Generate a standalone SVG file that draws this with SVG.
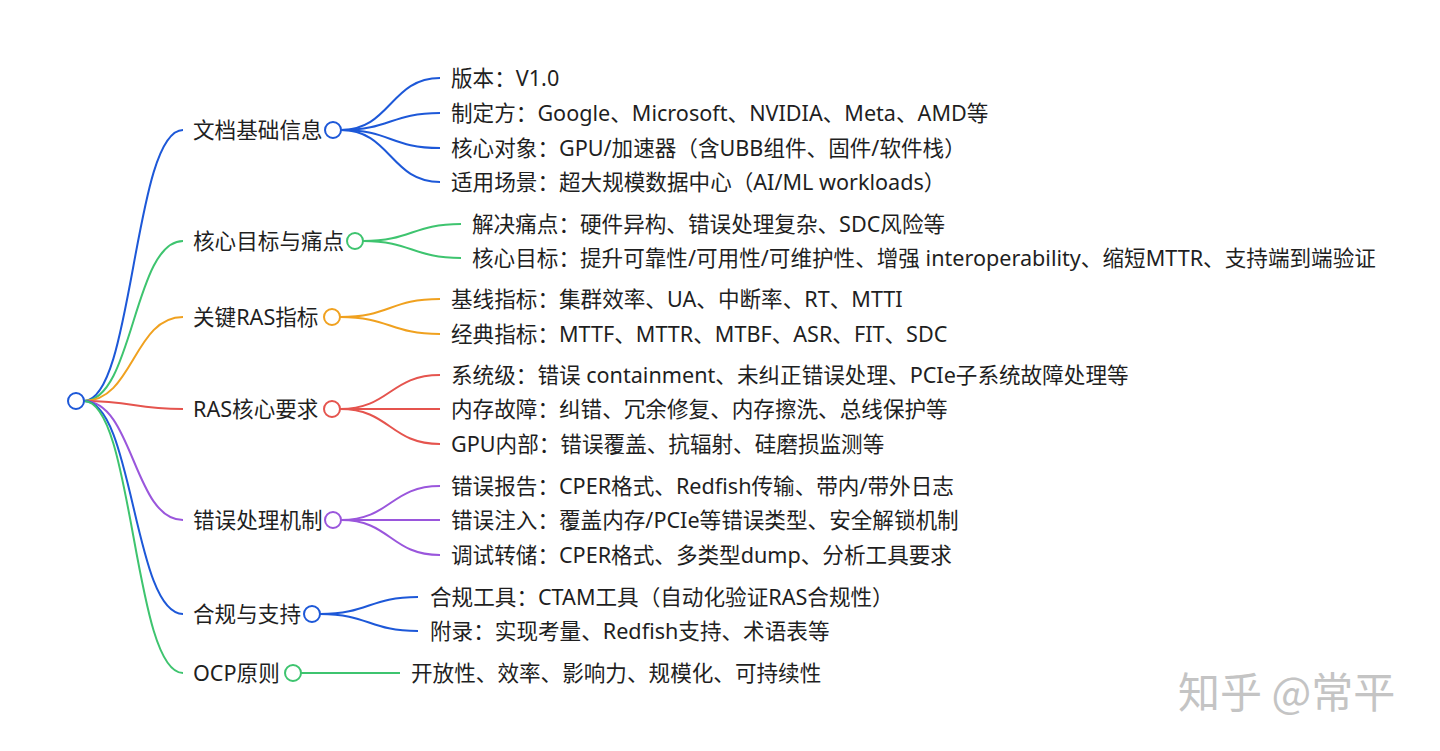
<svg xmlns="http://www.w3.org/2000/svg" width="1440" height="751" viewBox="0 0 1440 751">
<style>
text{font-family:"Noto Sans","Noto Sans CJK SC",sans-serif;font-size:21.6px;fill:#1f1f1f}
.l{fill:none;stroke-width:2}
.c{fill:#fff;stroke-width:2}
.b{stroke:#1d58d8}.g{stroke:#3ec46f}.o{stroke:#f0a11f}.r{stroke:#e5544e}.p{stroke:#9a56dc}
.wm{font-family:"Noto Sans CJK SC",sans-serif;font-size:42px;fill:#c4c4c4}
</style>
<rect width="1440" height="751" fill="#fff"/>
<g id="connectors">
<path class="l b" d="M84 401 C133.5 401 133.5 130 183 130"/>
<path class="l g" d="M84 401 C133.5 401 133.5 241 183 241"/>
<path class="l o" d="M84 401 C133.5 401 133.5 317 183 317"/>
<path class="l r" d="M84 401 C133.5 401 133.5 409 183 409"/>
<path class="l p" d="M84 401 C133.5 401 133.5 520 183 520"/>
<path class="l b" d="M84 401 C133.5 401 133.5 614 183 614"/>
<path class="l g" d="M84 401 C133.5 401 133.5 673 183 673"/>
<path class="l b" d="M341 130 C390.5 130 390.5 78 440 78"/>
<path class="l b" d="M341 130 C390.5 130 390.5 113 440 113"/>
<path class="l b" d="M341 130 C390.5 130 390.5 148 440 148"/>
<path class="l b" d="M341 130 C390.5 130 390.5 182 440 182"/>
<path class="l g" d="M363 241 C412 241 412 224 461 224"/>
<path class="l g" d="M363 241 C412 241 412 258 461 258"/>
<path class="l o" d="M340 317 C390 317 390 299 440 299"/>
<path class="l o" d="M340 317 C390 317 390 334 440 334"/>
<path class="l r" d="M340 409 C390 409 390 375 440 375"/>
<path class="l r" d="M340 409 C390 409 390 409 440 409"/>
<path class="l r" d="M340 409 C390 409 390 444 440 444"/>
<path class="l p" d="M341 520 C390.5 520 390.5 486 440 486"/>
<path class="l p" d="M341 520 C390.5 520 390.5 520 440 520"/>
<path class="l p" d="M341 520 C390.5 520 390.5 555 440 555"/>
<path class="l b" d="M320 614 C369 614 369 597 418 597"/>
<path class="l b" d="M320 614 C369 614 369 631 418 631"/>
<path class="l g" d="M301 673 L400 673"/>
</g>
<g id="root"><circle class="c b" cx="76" cy="401" r="8"/></g>
<g id="n1"><text x="193" y="137.5">文档基础信息</text><circle class="c b" cx="333" cy="130" r="8"/></g>
<g id="n2"><text x="193" y="248.5">核心目标与痛点</text><circle class="c g" cx="355" cy="241" r="8"/></g>
<g id="n3"><text x="193" y="324.5">关键RAS指标</text><circle class="c o" cx="332" cy="317" r="8"/></g>
<g id="n4"><text x="193" y="416.5">RAS核心要求</text><circle class="c r" cx="332" cy="409" r="8"/></g>
<g id="n5"><text x="193" y="527.5">错误处理机制</text><circle class="c p" cx="333" cy="520" r="8"/></g>
<g id="n6"><text x="193" y="621.5">合规与支持</text><circle class="c b" cx="312" cy="614" r="8"/></g>
<g id="n7"><text x="193" y="680.5">OCP原则</text><circle class="c g" cx="293" cy="673" r="8"/></g>
<g id="n1a"><text x="451" y="85.5">版本：V1.0</text></g>
<g id="n1b"><text x="451" y="120.5">制定方：Google、Microsoft、NVIDIA、Meta、AMD等</text></g>
<g id="n1c"><text x="451" y="155.5">核心对象：GPU/加速器（含UBB组件、固件/软件栈）</text></g>
<g id="n1d"><text x="451" y="189.5">适用场景：超大规模数据中心（AI/ML workloads）</text></g>
<g id="n2a"><text x="472" y="231.5">解决痛点：硬件异构、错误处理复杂、SDC风险等</text></g>
<g id="n2b"><text x="472" y="265.5">核心目标：提升可靠性/可用性/可维护性、增强 interoperability、缩短MTTR、支持端到端验证</text></g>
<g id="n3a"><text x="451" y="306.5">基线指标：集群效率、UA、中断率、RT、MTTI</text></g>
<g id="n3b"><text x="451" y="341.5">经典指标：MTTF、MTTR、MTBF、ASR、FIT、SDC</text></g>
<g id="n4a"><text x="451" y="382.5">系统级：错误 containment、未纠正错误处理、PCIe子系统故障处理等</text></g>
<g id="n4b"><text x="451" y="416.5">内存故障：纠错、冗余修复、内存擦洗、总线保护等</text></g>
<g id="n4c"><text x="451" y="451.5">GPU内部：错误覆盖、抗辐射、硅磨损监测等</text></g>
<g id="n5a"><text x="451" y="493.5">错误报告：CPER格式、Redfish传输、带内/带外日志</text></g>
<g id="n5b"><text x="451" y="527.5">错误注入：覆盖内存/PCIe等错误类型、安全解锁机制</text></g>
<g id="n5c"><text x="451" y="562.5">调试转储：CPER格式、多类型dump、分析工具要求</text></g>
<g id="n6a"><text x="430" y="604.5">合规工具：CTAM工具（自动化验证RAS合规性）</text></g>
<g id="n6b"><text x="430" y="638.5">附录：实现考量、Redfish支持、术语表等</text></g>
<g id="n7a"><text x="411" y="680.5">开放性、效率、影响力、规模化、可持续性</text></g>
<text class="wm" x="1178" y="708">知乎 @常平</text>
</svg>
